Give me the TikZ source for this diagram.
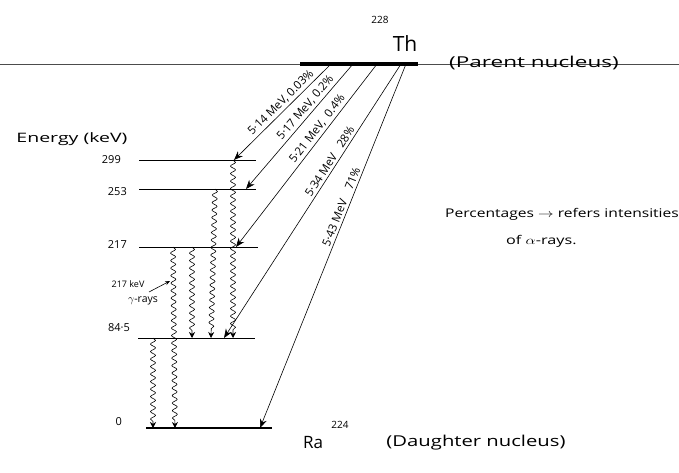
\documentclass[tikz,border=0pt]{standalone}
\usepackage{fontspec}
\usepackage{graphicx}
\setmainfont{Open Sans}
\usetikzlibrary{decorations.pathmorphing,arrows.meta}
\newcommand{\wide}[2]{\scalebox{#1}[1]{#2}}
\begin{document}
\begin{tikzpicture}[x=1pt,y=-1pt,
  rule/.style={line width=0.5pt, black!70},
  lvl/.style={line width=0.9pt},
  bar/.style={line width=4pt},
  alph/.style={line width=0.6pt, -{Stealth[length=9pt,width=7pt]}},
  gam/.style={line width=0.6pt, -{Stealth[length=6pt,width=6pt]}, decorate,
    decoration={snake, amplitude=2.5pt, segment length=7.5pt, post length=6pt}},
  lab/.style={font=\fontsize{11.5}{13}\selectfont, sloped, above, inner sep=2.5pt},
  txt/.style={inner sep=1pt}]
\useasboundingbox (0,0) rectangle (679,473);
% notebook rule through the parent level
\coordinate (rl) at (0,64); \coordinate (rr) at (679,64);
\draw[rule] (rl) -- (rr);
% parent level
\coordinate (thL) at (300,64); \coordinate (thR) at (418,64);
\draw[bar] (thL) -- (thR);
\node[txt, font=\fontsize{10}{12}\selectfont] (n228) at (380,20) {228};
\node[txt, font=\fontsize{21}{24}\selectfont] (th) at (405,44) {Th};
\node[txt, font=\fontsize{15}{18}\selectfont] (parent) at (534,63) {\wide{1.5}{(Parent nucleus)}};
% daughter levels
\coordinate (l299a) at (139,160); \coordinate (l299b) at (256,160);
\coordinate (l253a) at (139,189); \coordinate (l253b) at (256,189);
\coordinate (l217a) at (139,247); \coordinate (l217b) at (258,247);
\coordinate (l84a)  at (138,338); \coordinate (l84b)  at (255,338);
\coordinate (l0a)   at (146,428); \coordinate (l0b)   at (272,428);
\draw[lvl] (l299a) -- (l299b);
\draw[lvl] (l253a) -- (l253b);
\draw[lvl] (l217a) -- (l217b);
\draw[lvl] (l84a) -- (l84b);
\draw[line width=2pt] (l0a) -- (l0b);
\node[txt, font=\fontsize{13}{15}\selectfont] (energy) at (72,139) {\wide{1.5}{Energy (keV)}};
\node[txt, anchor=east, font=\fontsize{11}{13}\selectfont] (t299) at (122,160) {299};
\node[txt, anchor=east, font=\fontsize{11}{13}\selectfont] (t253) at (128,192) {253};
\node[txt, anchor=east, font=\fontsize{11}{13}\selectfont] (t217) at (128,245) {217};
\node[txt, anchor=east, font=\fontsize{11}{13}\selectfont] (t84) at (131,328) {84·5};
\node[txt, anchor=east, font=\fontsize{11}{13}\selectfont] (t0) at (123,422) {0};
% alpha transitions
\coordinate (a1s) at (331,64); \coordinate (a1e) at (234,160);
\coordinate (a2s) at (353,64); \coordinate (a2e) at (246,189);
\coordinate (a3s) at (377,64); \coordinate (a3e) at (236,247);
\coordinate (a4s) at (401,64); \coordinate (a4e) at (224,338);
\coordinate (a5s) at (406,64); \coordinate (a5e) at (260,428);
\draw[alph] (a1s) -- node[lab, pos=0.46] {5·14 MeV, 0.03\%} (a1e);
\draw[alph] (a2s) -- node[lab, pos=0.39] {5·17 MeV, 0.2\%} (a2e);
\draw[alph] (a3s) -- node[lab, pos=0.38] {5·21 MeV,\ \ 0.4\%} (a3e);
\draw[alph] (a4s) -- node[lab, pos=0.37] {5·34 MeV\ \ \ 28\%} (a4e);
\draw[alph] (a5s) -- node[lab, pos=0.40] {5·43 MeV\ \ \ \ 71\%} (a5e);
% gamma transitions
\coordinate (g1s) at (233,160); \coordinate (g1e) at (233,338);
\coordinate (g2s) at (215,189); \coordinate (g2e) at (211,338);
\coordinate (g3s) at (192,247); \coordinate (g3e) at (192,338);
\coordinate (g4s) at (173,247); \coordinate (g4e) at (175,428);
\coordinate (g5s) at (153,338); \coordinate (g5e) at (153,428);
\draw[gam] (g1s) -- (g1e);
\draw[gam] (g2s) -- (g2e);
\draw[gam] (g3s) -- (g3e);
\draw[gam] (g4s) -- (g4e);
\draw[gam] (g5s) -- (g5e);
\node[txt, font=\fontsize{9}{10}\selectfont] (kev) at (128,284) {217 keV};
\node[txt, font=\fontsize{10.5}{12}\selectfont] (grays) at (143,301) {$\gamma$-rays};
\coordinate (ga) at (149,292); \coordinate (gb) at (170,281);
\draw[line width=0.6pt, -{Stealth[length=5pt,width=4pt]}] (ga) -- (gb);
% note
\node[txt, anchor=west, font=\fontsize{12}{14}\selectfont] (note1) at (444,214) {\wide{1.3}{Percentages $\rightarrow$ refers intensities}};
\node[txt, anchor=west, font=\fontsize{12}{14}\selectfont] (note2) at (505,241) {\wide{1.35}{of $\alpha$-rays.}};
% daughter label
\node[txt, font=\fontsize{17}{20}\selectfont] (ra) at (313,443) {Ra};
\node[txt, font=\fontsize{10}{12}\selectfont] (n224) at (340,425) {224};
\node[txt, font=\fontsize{15}{18}\selectfont] (daughter) at (476,443) {\wide{1.35}{(Daughter nucleus)}};
\end{tikzpicture}
\end{document}
